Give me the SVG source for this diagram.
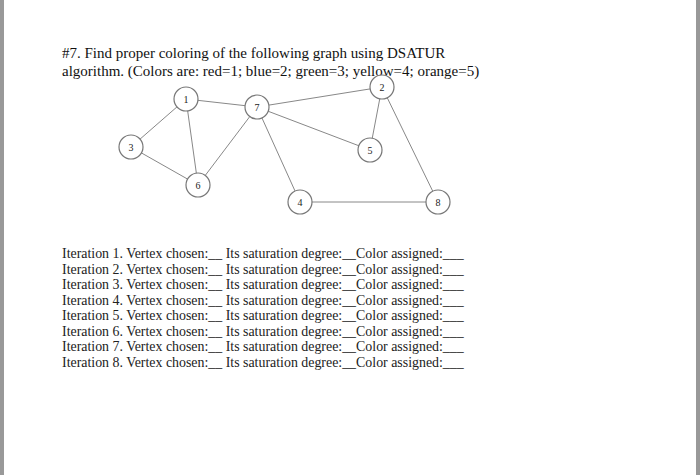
<svg xmlns="http://www.w3.org/2000/svg" width="700" height="475" viewBox="0 0 700 475">
<style>
.t{font-family:"Liberation Serif",serif;fill:#111}
.h{font-size:15px}
.i{font-size:13.9px;fill:#222}
.n circle{fill:#fff;stroke:#777;stroke-width:1.2}
.n text{font-family:"Liberation Serif",serif;font-size:10px;text-anchor:middle;fill:#222}
#edges line{stroke:#888;stroke-width:1}
</style>
<rect width="700" height="475" fill="#fff"/>
<rect x="0" y="0" width="4" height="475" fill="#999"/>
<rect x="696" y="0" width="4" height="475" fill="#999"/>
<text class="t h" x="62" y="58">#7. Find proper coloring of the following graph using DSATUR</text>
<text class="t h" x="62" y="76">algorithm. (Colors are: red=1; blue=2; green=3; yellow=4; orange=5)</text>
<g id="edges">
<line x1="186" y1="99" x2="257" y2="107"/>
<line x1="186" y1="99" x2="131" y2="147"/>
<line x1="186" y1="99" x2="198" y2="185"/>
<line x1="131" y1="147" x2="198" y2="185"/>
<line x1="198" y1="185" x2="257" y2="107"/>
<line x1="257" y1="107" x2="382" y2="87"/>
<line x1="257" y1="107" x2="370" y2="150"/>
<line x1="257" y1="107" x2="300" y2="202"/>
<line x1="382" y1="87" x2="370" y2="150"/>
<line x1="382" y1="87" x2="438" y2="202"/>
<line x1="300" y1="202" x2="438" y2="202"/>
</g>
<g id="n1" class="n"><circle cx="186" cy="99" r="12"/><text x="186" y="103">1</text></g>
<g id="n7" class="n"><circle cx="257" cy="107" r="12"/><text x="257" y="111">7</text></g>
<g id="n2" class="n"><circle cx="382" cy="87" r="12"/><text x="382" y="91">2</text></g>
<g id="n3" class="n"><circle cx="131" cy="147" r="12"/><text x="131" y="151">3</text></g>
<g id="n5" class="n"><circle cx="370" cy="150" r="12"/><text x="370" y="154">5</text></g>
<g id="n6" class="n"><circle cx="198" cy="185" r="12"/><text x="198" y="189">6</text></g>
<g id="n4" class="n"><circle cx="300" cy="202" r="12"/><text x="300" y="206">4</text></g>
<g id="n8" class="n"><circle cx="438" cy="202" r="12"/><text x="438" y="206">8</text></g>
<g class="t i">
<text x="62" y="258">Iteration 1. Vertex chosen:__ Its saturation degree:__Color assigned:___</text>
<text x="62" y="273.5">Iteration 2. Vertex chosen:__ Its saturation degree:__Color assigned:___</text>
<text x="62" y="289">Iteration 3. Vertex chosen:__ Its saturation degree:__Color assigned:___</text>
<text x="62" y="304.5">Iteration 4. Vertex chosen:__ Its saturation degree:__Color assigned:___</text>
<text x="62" y="320">Iteration 5. Vertex chosen:__ Its saturation degree:__Color assigned:___</text>
<text x="62" y="335.5">Iteration 6. Vertex chosen:__ Its saturation degree:__Color assigned:___</text>
<text x="62" y="351">Iteration 7. Vertex chosen:__ Its saturation degree:__Color assigned:___</text>
<text x="62" y="366.5">Iteration 8. Vertex chosen:__ Its saturation degree:__Color assigned:___</text>
</g>
</svg>
